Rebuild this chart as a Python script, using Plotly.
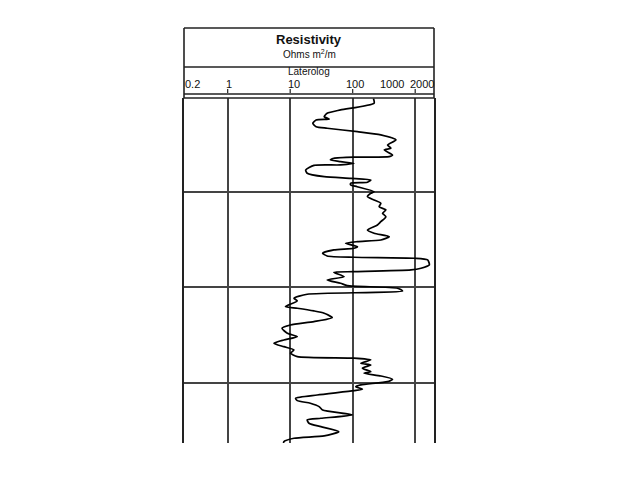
import plotly.graph_objs as go

# Laterolog resistivity curve (depth units are arbitrary)
depth = [2, 7.1, 14.1, 17.6, 21.2, 23.6, 24.6, 28.1, 31.6, 33.3, 36.9, 40.3, 45.5,
         50.8, 54.2, 56.0, 61.3, 63.0, 63.5, 64.7, 66.5, 68.3, 70.0, 71.7, 72.2,
         77.0, 80.4, 84.0, 85.7, 87.4, 89.8, 90.9, 92.7, 94.5, 99.7, 101.4, 104.9,
         108.4, 111.8, 115.4, 118.8, 122.3, 125.9, 131.1, 134.6, 139.8, 143.2,
         146.8, 150.3, 152.0, 153.7, 157.3, 159.0, 160.7, 164.2, 167.0, 168.4,
         169.4, 171.2, 176.4, 179.9, 181.7, 183.5, 184.1, 188.7, 192.1, 195.6,
         198.1, 200.8, 203.7, 207.1, 211.3, 214.1, 220.1, 221.8, 224.6, 227.0,
         231.6, 235.8, 239.3, 242.7, 248.0, 251.5, 255.0, 258.4, 262.0, 265.4,
         268.9, 272.5, 274.1, 275.9, 279.4, 281.2, 284.6, 288.2, 289.8, 292.7,
         296.1, 298.6, 302.1, 303.9, 306.6, 308.1, 312.6, 316.0, 318.5, 321.3,
         324.8, 328.3, 333.5, 337.0, 338.7, 342.2, 345.8, 351.0, 355.5, 357.9,
         361.5, 365]
resistivity = [215, 220, 64, 39, 35, 42, 26, 23, 26, 39, 119, 282, 492,
               361, 409, 319, 434, 384, 119, 50, 44, 64, 105, 64, 24,
               17.7, 18.7, 35, 93, 195, 172, 93, 93, 118, 220, 195, 172,
               220, 282, 265, 340, 300, 340, 282, 249, 172, 220,
               384, 282, 119, 77, 119, 105, 50, 33, 39, 105,
               967, 1581, 1684, 1239, 857, 105, 50, 73, 39, 64,
               82, 522, 628, 18.7, 11.5, 13, 8.4, 13, 24, 35,
               47, 24, 10.1, 7.4, 9.0, 13, 7.9, 5.5, 7.9, 11.5,
               10.1, 13, 105, 195, 135, 195, 143, 195, 152, 282,
               434, 361, 135, 112, 143, 105, 27, 12.2, 13, 21,
               29, 33, 99, 31, 18.7, 20, 31, 60, 35, 11.5,
               7.9, 7.9]

scale_labels = ["0.2", "1", "10", "100", "1000", "2000"]
label_pos = [0.035, 0.18, 0.44, 0.685, 0.83, 0.95]
grid_values = [1, 10, 100, 1000]
depth_lines = [100, 200, 300]

W, H = 638, 479
OFF = 8  # page body margin
FONT = "Liberation Sans"


def px(p):
    # pixel column of the reference -> paper x
    return (p - OFF) / W


def py(p):
    # pixel row of the reference -> paper y
    return 1 - (p - OFF) / H


def build():
    curve = go.Scatter(
        x=resistivity, y=depth, mode="lines",
        line=dict(color="black", width=1.7, shape="spline", smoothing=0.6),
        hoverinfo="x+y",
    )

    shapes = []
    # header box and dividers
    for y0 in (28, 67, 94, 98):
        shapes.append(dict(type="line", xref="x domain", yref="paper",
                           x0=0, x1=1, y0=py(y0), y1=py(y0),
                           line=dict(color="#222", width=1.4)))
    for xx in (0, 1):
        shapes.append(dict(type="line", xref="x domain", yref="paper",
                           x0=xx, x1=xx, y0=py(28), y1=py(98),
                           line=dict(color="#222", width=1.6)))
    # small ticks under scale labels
    for v in grid_values:
        shapes.append(dict(type="line", xref="x", yref="paper",
                           x0=v, x1=v, y0=py(89), y1=py(93),
                           line=dict(color="#222", width=1.2)))

    annotations = [
        dict(text="<b>Resistivity</b>", x=0.5, y=py(39), font=dict(size=13)),
        dict(text="Ohms m<sup>2</sup>/m", x=0.5, y=py(54), font=dict(size=10)),
        dict(text="Laterolog", x=0.5, y=py(71), font=dict(size=10)),
    ]
    for lab, pos in zip(scale_labels, label_pos):
        annotations.append(dict(text=lab, x=pos, y=py(84), font=dict(size=11)))
    for a in annotations:
        a.update(xref="x domain", yref="paper", showarrow=False,
                 xanchor="center", yanchor="middle")
        a["font"].update(family=FONT, color="#111")

    fig = go.Figure(
        data=[curve],
        layout=go.Layout(
            width=W, height=H,
            showlegend=False,
            paper_bgcolor="white", plot_bgcolor="white",
            margin=dict(l=0, r=0, t=0, b=0),
            xaxis=dict(
                type="log", range=[-0.699, 3.301],
                domain=[px(184), px(434)],
                tickvals=grid_values, showticklabels=False, ticks="",
                showgrid=True, gridcolor="#444", gridwidth=1.5,
                zeroline=False, showline=False,
            ),
            yaxis=dict(
                range=[362.9, 1.6],
                domain=[py(443), py(98)],
                tickvals=depth_lines, showticklabels=False, ticks="",
                showgrid=True, gridcolor="#444", gridwidth=1.5,
                zeroline=False, showline=True, mirror=True,
                linecolor="#222", linewidth=1.6,
            ),
            shapes=shapes,
            annotations=annotations,
        ),
    )
    fig.write_html("out.html")


build()
